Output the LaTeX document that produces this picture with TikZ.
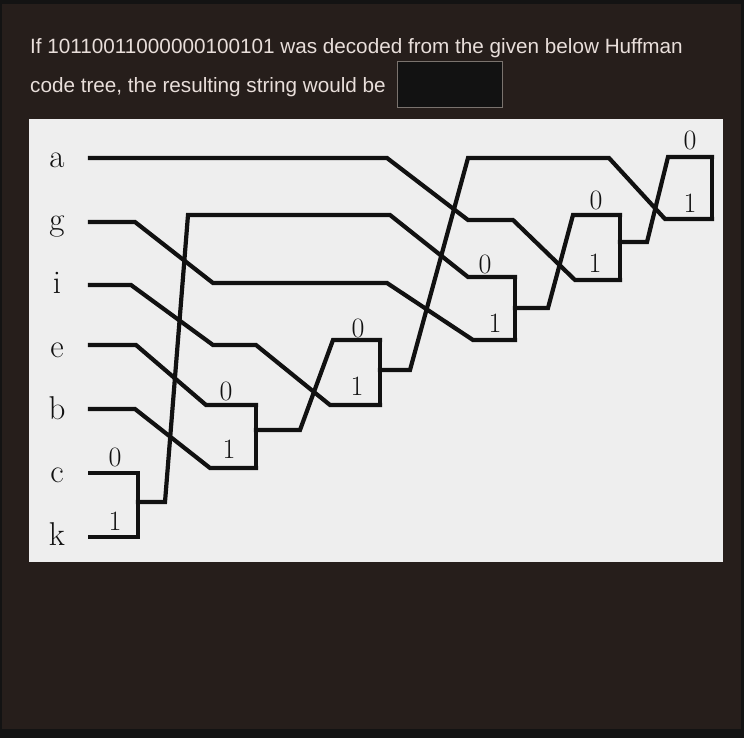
\documentclass[tikz,border=0pt]{standalone}
\usepackage{fontspec}
\usepackage{tikz}
\usepackage{xcolor}
\usetikzlibrary{positioning}
\newfontfamily\uifont{Liberation Sans}

\definecolor{framecol}{HTML}{131313}
\definecolor{pagecol}{HTML}{261E1B}
\definecolor{panelcol}{HTML}{EEEEEE}
\definecolor{inkcol}{HTML}{111111}
\definecolor{qcol}{HTML}{E8DEDA}
\definecolor{anscol}{HTML}{121212}
\definecolor{ansline}{HTML}{7A736E}

\begin{document}
\begin{tikzpicture}[x=1pt,y=-1pt,
    wire/.style = {draw=inkcol, line width=4.2pt, line cap=rect, line join=miter},
    leaf/.style = {anchor=base, inner sep=0pt, text=inkcol, font=\fontsize{33}{33}\selectfont},
    bit/.style = {anchor=base, inner sep=0pt, text=inkcol, font=\fontsize{28}{28}\selectfont},
    question/.style = {anchor=base west, inner sep=0pt, text=qcol, font=\uifont\fontsize{20.7}{22}\selectfont}]
        % background and panel
        \fill[framecol] (0,0) rectangle (744,738);
        \fill[pagecol] (2,4) rectangle (741,729);
        \fill[panelcol] (29,119) rectangle (723,562);

        % question text
        \node[question] (q1) at (30,54) {If 10110011000000100101 was decoded from the given below Huffman};
        \node[question] (q2) at (30,93) {code tree, the resulting string would be};
        \node[draw=ansline, fill=anscol, line width=1pt, minimum width=105pt, minimum height=46pt, inner sep=0pt] (ans) at (450,85) {};

        % leaves
        \foreach \name/\y/\wy in {a/168/158, g/230/222, i/293/285, e/357/345, b/419/409, c/482/473, k/545/537} {
            \node[leaf] (\name) at (57,\y) {\name};
            \coordinate (\name w) at (90,\wy);
        }

        % junctions
        \coordinate (ck0) at (138,473); \coordinate (ck1) at (138,537); \coordinate (ck) at (138,502);
        \coordinate (eb0) at (256,405); \coordinate (eb1) at (256,468); \coordinate (eb) at (256,430);
        \coordinate (ebi0) at (380,340); \coordinate (ebi1) at (380,405); \coordinate (ebi) at (380,370);
        \coordinate (ckg0) at (515,277); \coordinate (ckg1) at (515,340); \coordinate (ckg) at (515,308);
        \coordinate (ckga0) at (620,215); \coordinate (ckga1) at (620,280); \coordinate (ckga) at (620,242);
        \coordinate (root0) at (712,157); \coordinate (root1) at (712,219);

        % leaf wires
        \draw[wire] (aw) -- (387,158) -- (468,220) -- (513,220) -- (575,280) -- (ckga1);
        \draw[wire] (gw) -- (135,222) -- (213,283) -- (387,283) -- (473,340) -- (ckg1);
        \draw[wire] (iw) -- (131,285) -- (213,345) -- (256,345) -- (330,405) -- (ebi1);
        \draw[wire] (ew) -- (136,345) -- (206,405) -- (eb0);
        \draw[wire] (bw) -- (135,409) -- (210,468) -- (eb1);
        \draw[wire] (cw) -- (ck0);
        \draw[wire] (kw) -- (ck1);

        % inner nodes and their outputs
        \draw[wire] (ck0) -- (ck1);
        \draw[wire] (ck) -- (165,502) -- (188,215) -- (390,215) -- (468,277) -- (ckg0);
        \draw[wire] (eb0) -- (eb1);
        \draw[wire] (eb) -- (300,430) -- (333,340) -- (ebi0);
        \draw[wire] (ebi0) -- (ebi1);
        \draw[wire] (ebi) -- (410,370) -- (468,158) -- (609,158) -- (665,219) -- (root1);
        \draw[wire] (ckg0) -- (ckg1);
        \draw[wire] (ckg) -- (548,308) -- (573,215) -- (ckga0);
        \draw[wire] (ckga0) -- (ckga1);
        \draw[wire] (ckga) -- (647,242) -- (668,157) -- (root0);
        \draw[wire] (root0) -- (root1);

        % branch bits
        \foreach \x/\y/\t [count=\n] in {115/466/0, 115/530/1, 226/400/0, 229/458/1, 358/337/0, 357/395/1,
                                         485/273/0, 495/332/1, 596/210/0, 595/272/1, 690/150/0, 690/213/1} {
            \node[bit] (bit\n) at (\x,\y) {\t};
        }
\end{tikzpicture}
\end{document}
